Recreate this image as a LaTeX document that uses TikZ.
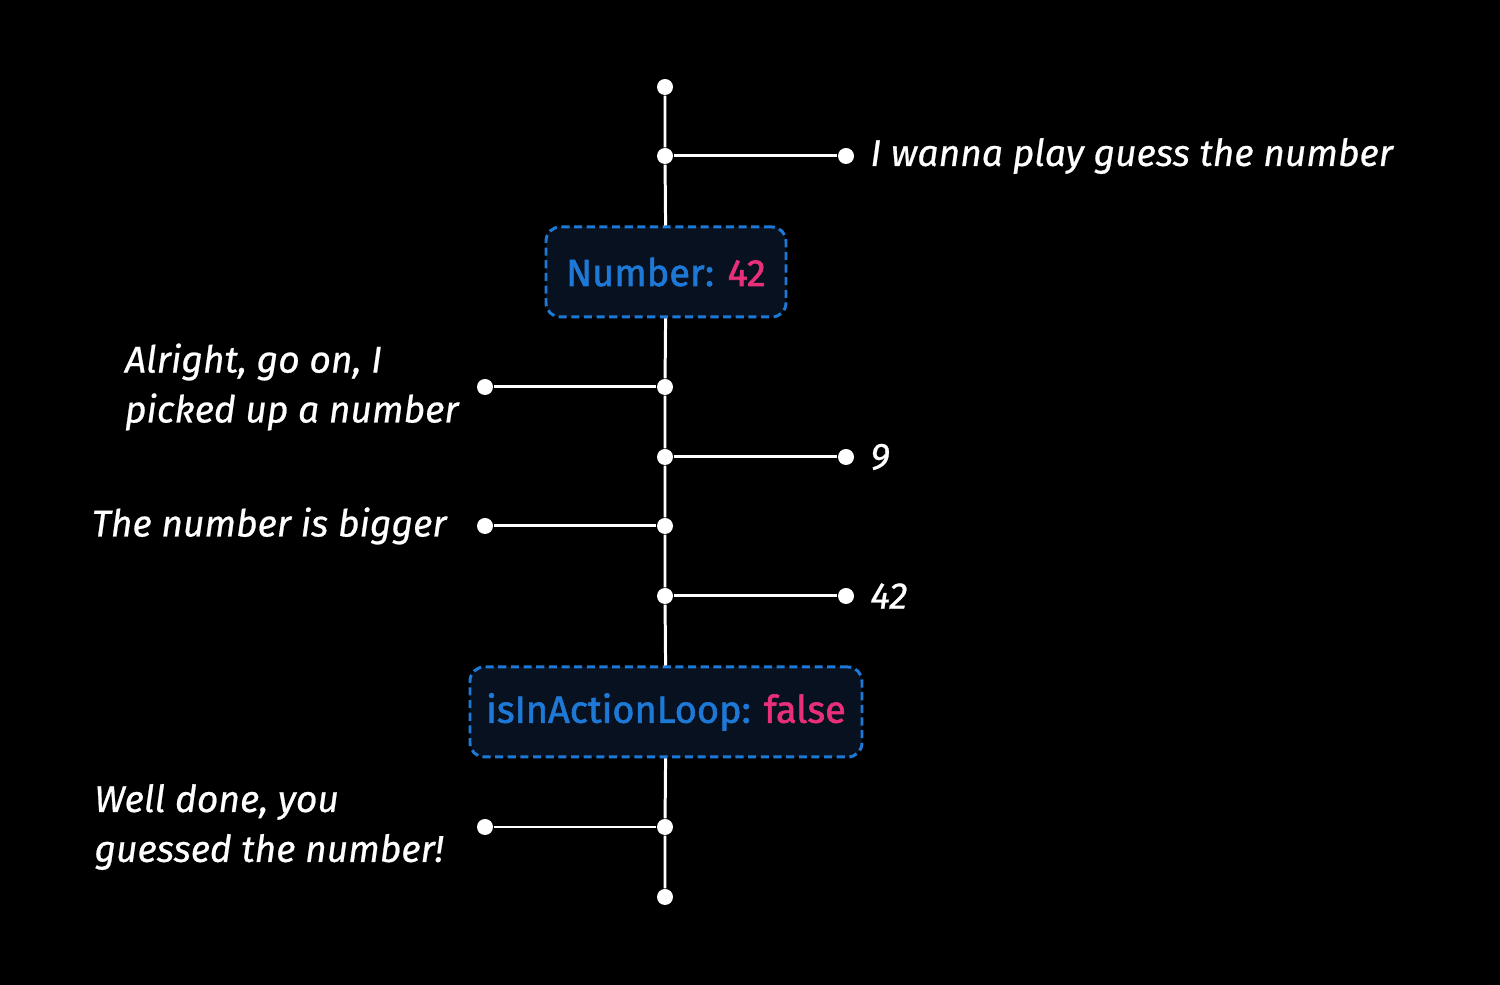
\documentclass[tikz,border=0pt]{standalone}
\usepackage{fontspec}
\setmainfont{Fira Sans}[ItalicFeatures={FakeBold=0.6},BoldFont={Fira Sans},BoldFeatures={FakeBold=1.6}]
\usetikzlibrary{positioning}
\definecolor{varblue}{HTML}{1E78D6}
\definecolor{valpink}{HTML}{E8307A}
\definecolor{boxfill}{HTML}{08111F}
\tikzset{
  node distance=0.2cm,
  dot/.style={circle,fill=white,inner sep=0pt,minimum size=0.16cm},
  wire/.style={draw=white,line width=0.85pt},
  said/.style={font=\fontsize{10.6}{14.2}\selectfont\itshape,text=white,inner sep=0pt,align=left},
  statebox/.style={draw=varblue,fill=boxfill,rounded corners=4pt,line width=0.85pt,
    dash pattern=on 2.3pt off 1.3pt,font=\fontsize{10.8}{12}\selectfont\bfseries,text=varblue,
    minimum height=0.9cm,inner sep=0pt},
}

\begin{document}
\begin{tikzpicture}
  \fill[black] (0,0) rectangle (15,-9.85);
  \useasboundingbox (0,0) rectangle (15,-9.85);

  % timeline
  \node[dot] at (6.65,-0.87) (top){};
  \node[dot] at (6.65,-1.56) (j1){};
  \node[statebox,minimum width=2.4cm] at (6.66,-2.72) (numbox){Number: \textcolor{valpink}{42}};
  \node[dot] at (6.65,-3.87) (j2){};
  \node[dot] at (6.65,-4.57) (j3){};
  \node[dot] at (6.65,-5.26) (j4){};
  \node[dot] at (6.65,-5.96) (j5){};
  \node[statebox,minimum width=3.92cm] at (6.66,-7.12) (loopbox){isInActionLoop: \textcolor{valpink}{false}};
  \node[dot] at (6.65,-8.27) (j6){};
  \node[dot] at (6.65,-8.97) (bottom){};

  \draw[wire] (top) -- (j1) -- (numbox);
  \draw[wire] (numbox) -- (j2) -- (j3) -- (j4) -- (j5) -- (loopbox);
  \draw[wire] (loopbox) -- (j6) -- (bottom);

  % user
  \node[dot] at (8.46,-1.56) (r1){};
  \node[said,right=0.15cm of r1] (ask){I wanna play guess the number};
  \draw[wire] (j1) -- (r1);

  \node[dot] at (8.46,-4.57) (r2){};
  \node[said,right=0.15cm of r2] (guess1){9};
  \draw[wire] (j3) -- (r2);

  \node[dot] at (8.46,-5.96) (r3){};
  \node[said,right=0.15cm of r3] (guess2){42};
  \draw[wire] (j5) -- (r3);

  % bot
  \node[dot] at (4.85,-3.87) (l1){};
  \node[said,left=0.17cm of l1] (picked){Alright, go on, I\\picked up a number};
  \draw[wire] (j2) -- (l1);

  \node[dot] at (4.85,-5.26) (l2){};
  \node[said,left=0.29cm of l2] (bigger){The number is bigger};
  \draw[wire] (j4) -- (l2);

  \node[dot] at (4.85,-8.27) (l3){};
  \node[said,left=0.32cm of l3] (done){Well done, you\\guessed the number!};
  \draw[wire] (j6) -- (l3);
\end{tikzpicture}
\end{document}
